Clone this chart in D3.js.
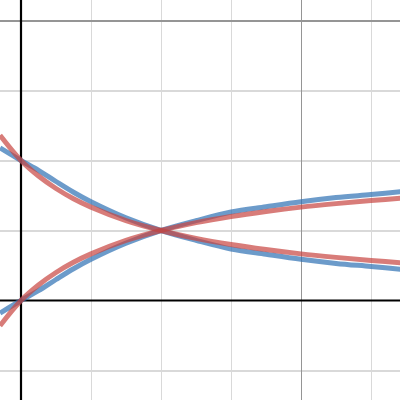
<!DOCTYPE html>
<html lang="en">
<head>
    <meta charset="UTF-8">
    <title>Crossing curves</title>
    <script src="https://d3js.org/d3.v7.min.js"></script>
    <style>
        body {
            margin: 0;
            background: #fff;
        }
        .grid line {
            shape-rendering: crispEdges;
        }
        .grid path {
            display: none;
        }
        .curve {
            fill: none;
            stroke-width: 5px;
            stroke-opacity: 0.7;
            stroke-linejoin: round;
        }
    </style>
</head>
<body>
    <div id="chart"></div>
    <script>
        // values (one minor grid step = 0.5)
        const xs        = [-0.15, 0, 0.125, 0.25, 0.375, 0.5, 0.75, 1, 1.25, 1.5, 1.75, 2, 2.25, 2.5, 2.75];
        const blueDown  = [1.09, 1.0, 0.93, 0.85, 0.773, 0.705, 0.59, 0.5, 0.43, 0.368, 0.33, 0.294, 0.265, 0.243, 0.22];
        const blueUp    = [-0.09, 0, 0.07, 0.15, 0.227, 0.295, 0.41, 0.5, 0.57, 0.632, 0.67, 0.706, 0.735, 0.757, 0.78];
        const redDown   = [1.18, 1.0, 0.889, 0.8, 0.727, 0.667, 0.571, 0.5, 0.444, 0.4, 0.364, 0.333, 0.308, 0.286, 0.267];
        const redUp     = [-0.18, 0, 0.111, 0.2, 0.273, 0.333, 0.429, 0.5, 0.556, 0.6, 0.636, 0.667, 0.692, 0.714, 0.733];

        const minorTicksX = [0.5, 1, 1.5, 2.5];
        const majorTicksX = [2];
        const minorTicksY = [-0.5, 0.5, 1, 1.5];
        const majorTicksY = [2];

        const width = 400;
        const height = 400;

        // origin sits at (21, 300.5), 140px per unit
        const x = d3.scaleLinear().domain([-0.15, 2.707]).range([0, width]);
        const y = d3.scaleLinear().domain([-0.7107, 2.1464]).range([height, 0]);

        const svg = d3.select("#chart")
            .append("svg")
            .attr("width", width)
            .attr("height", height);

        // grid lines from axes with full-length ticks
        function vGrid(ticks, color) {
            svg.append("g")
                .attr("class", "grid")
                .attr("transform", `translate(0,${height})`)
                .call(d3.axisBottom(x).tickValues(ticks).tickSize(-height).tickFormat(""))
                .selectAll("line")
                .attr("stroke", color)
                .attr("stroke-width", 1.4);
        }
        function hGrid(ticks, color) {
            svg.append("g")
                .attr("class", "grid")
                .call(d3.axisLeft(y).tickValues(ticks).tickSize(-width).tickFormat(""))
                .selectAll("line")
                .attr("stroke", color)
                .attr("stroke-width", 1.4);
        }
        vGrid(minorTicksX, "#d9d9d9");
        hGrid(minorTicksY, "#d9d9d9");
        vGrid(majorTicksX, "#959595");
        hGrid(majorTicksY, "#959595");

        // the two axes
        svg.append("line")
            .attr("x1", x(0)).attr("x2", x(0))
            .attr("y1", 0).attr("y2", height)
            .attr("stroke", "#000").attr("stroke-width", 2.2);
        svg.append("line")
            .attr("x1", 0).attr("x2", width)
            .attr("y1", y(0)).attr("y2", y(0))
            .attr("stroke", "#000").attr("stroke-width", 2.2);

        const line = d3.line()
            .x(d => x(d[0]))
            .y(d => y(d[1]))
            .curve(d3.curveCatmullRom.alpha(0.5));

        const series = [
            { values: blueDown, color: "#2d70b3" },
            { values: blueUp, color: "#2d70b3" },
            { values: redDown, color: "#c74440" },
            { values: redUp, color: "#c74440" }
        ];

        svg.selectAll(".curve")
            .data(series)
            .enter().append("path")
            .attr("class", "curve")
            .attr("stroke", d => d.color)
            .attr("d", d => line(d3.zip(xs, d.values)));
    </script>
</body>
</html>
